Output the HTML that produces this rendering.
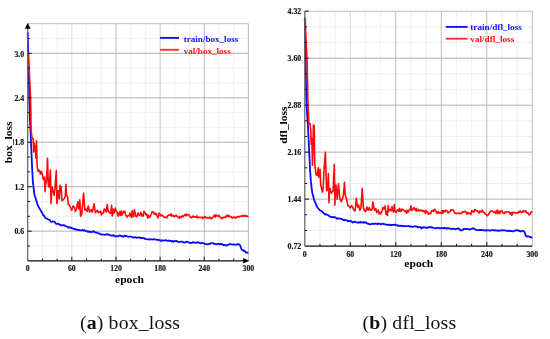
<!DOCTYPE html>
<html><head><meta charset="utf-8"><style>
html,body{margin:0;padding:0;background:#fff;}
body{width:550px;height:339px;overflow:hidden;position:relative;}
svg{position:absolute;left:0;top:0;filter:blur(0.3px);}
.mn{stroke:#ededed;stroke-width:0.9;}
.mj{stroke:#bebebe;stroke-width:1;}
.bd{stroke:#bdbdbd;stroke-width:1;fill:none;}
.ax{stroke:#111;stroke-width:1.2;}
.tk{stroke:#111;stroke-width:1;}
.tl{font-family:"Liberation Serif",serif;font-weight:bold;font-size:7.8px;fill:#111;stroke:#111;stroke-width:0.15px;}
.al{font-family:"Liberation Serif",serif;font-weight:bold;font-size:11.6px;fill:#000;}
.lg{font-family:"Liberation Serif",serif;font-weight:bold;font-size:9.1px;}
.cap{font-family:"Liberation Serif",serif;font-size:19.8px;fill:#111;}
.tr{fill:none;stroke:#0a0aff;stroke-width:1.8;stroke-linejoin:round;}
.vl{fill:none;stroke:#ff0a0a;stroke-width:1.6;stroke-linejoin:round;}
</style></head><body>
<svg width="550" height="339" viewBox="0 0 550 339">
<line x1="42.41" y1="23.70" x2="42.41" y2="260.80" class="mn"/>
<line x1="57.13" y1="23.70" x2="57.13" y2="260.80" class="mn"/>
<line x1="86.55" y1="23.70" x2="86.55" y2="260.80" class="mn"/>
<line x1="101.27" y1="23.70" x2="101.27" y2="260.80" class="mn"/>
<line x1="130.69" y1="23.70" x2="130.69" y2="260.80" class="mn"/>
<line x1="145.41" y1="23.70" x2="145.41" y2="260.80" class="mn"/>
<line x1="174.83" y1="23.70" x2="174.83" y2="260.80" class="mn"/>
<line x1="189.55" y1="23.70" x2="189.55" y2="260.80" class="mn"/>
<line x1="218.97" y1="23.70" x2="218.97" y2="260.80" class="mn"/>
<line x1="233.69" y1="23.70" x2="233.69" y2="260.80" class="mn"/>
<line x1="27.70" y1="245.98" x2="248.40" y2="245.98" class="mn"/>
<line x1="27.70" y1="216.34" x2="248.40" y2="216.34" class="mn"/>
<line x1="27.70" y1="201.53" x2="248.40" y2="201.53" class="mn"/>
<line x1="27.70" y1="171.89" x2="248.40" y2="171.89" class="mn"/>
<line x1="27.70" y1="157.07" x2="248.40" y2="157.07" class="mn"/>
<line x1="27.70" y1="127.43" x2="248.40" y2="127.43" class="mn"/>
<line x1="27.70" y1="112.61" x2="248.40" y2="112.61" class="mn"/>
<line x1="27.70" y1="82.97" x2="248.40" y2="82.97" class="mn"/>
<line x1="27.70" y1="68.16" x2="248.40" y2="68.16" class="mn"/>
<line x1="27.70" y1="38.52" x2="248.40" y2="38.52" class="mn"/>
<line x1="71.84" y1="23.70" x2="71.84" y2="260.80" class="mj" style="stroke:#dcdcdc"/>
<line x1="115.98" y1="23.70" x2="115.98" y2="260.80" class="mj" style="stroke:#b8b8b8"/>
<line x1="160.12" y1="23.70" x2="160.12" y2="260.80" class="mj" style="stroke:#c6c6c6"/>
<line x1="204.26" y1="23.70" x2="204.26" y2="260.80" class="mj" style="stroke:#b8b8b8"/>
<line x1="27.70" y1="231.16" x2="248.40" y2="231.16" class="mj" style="stroke:#b2b2b2"/>
<line x1="27.70" y1="186.71" x2="248.40" y2="186.71" class="mj" style="stroke:#b2b2b2"/>
<line x1="27.70" y1="142.25" x2="248.40" y2="142.25" class="mj" style="stroke:#b2b2b2"/>
<line x1="27.70" y1="97.79" x2="248.40" y2="97.79" class="mj" style="stroke:#b2b2b2"/>
<line x1="27.70" y1="53.34" x2="248.40" y2="53.34" class="mj" style="stroke:#b2b2b2"/>
<polyline points="27.70,23.70 248.40,23.70 248.40,260.80" class="bd"/>
<line x1="319.97" y1="11.20" x2="319.97" y2="246.10" class="mn"/>
<line x1="335.13" y1="11.20" x2="335.13" y2="246.10" class="mn"/>
<line x1="365.47" y1="11.20" x2="365.47" y2="246.10" class="mn"/>
<line x1="380.63" y1="11.20" x2="380.63" y2="246.10" class="mn"/>
<line x1="410.97" y1="11.20" x2="410.97" y2="246.10" class="mn"/>
<line x1="426.13" y1="11.20" x2="426.13" y2="246.10" class="mn"/>
<line x1="456.47" y1="11.20" x2="456.47" y2="246.10" class="mn"/>
<line x1="471.63" y1="11.20" x2="471.63" y2="246.10" class="mn"/>
<line x1="501.97" y1="11.20" x2="501.97" y2="246.10" class="mn"/>
<line x1="517.13" y1="11.20" x2="517.13" y2="246.10" class="mn"/>
<line x1="304.80" y1="230.44" x2="532.30" y2="230.44" class="mn"/>
<line x1="304.80" y1="214.78" x2="532.30" y2="214.78" class="mn"/>
<line x1="304.80" y1="183.46" x2="532.30" y2="183.46" class="mn"/>
<line x1="304.80" y1="167.80" x2="532.30" y2="167.80" class="mn"/>
<line x1="304.80" y1="136.48" x2="532.30" y2="136.48" class="mn"/>
<line x1="304.80" y1="120.82" x2="532.30" y2="120.82" class="mn"/>
<line x1="304.80" y1="89.50" x2="532.30" y2="89.50" class="mn"/>
<line x1="304.80" y1="73.84" x2="532.30" y2="73.84" class="mn"/>
<line x1="304.80" y1="42.52" x2="532.30" y2="42.52" class="mn"/>
<line x1="304.80" y1="26.86" x2="532.30" y2="26.86" class="mn"/>
<line x1="350.30" y1="11.20" x2="350.30" y2="246.10" class="mj" style="stroke:#d8d8d8"/>
<line x1="395.80" y1="11.20" x2="395.80" y2="246.10" class="mj" style="stroke:#bbbbbb"/>
<line x1="441.30" y1="11.20" x2="441.30" y2="246.10" class="mj" style="stroke:#bdbdbd"/>
<line x1="486.80" y1="11.20" x2="486.80" y2="246.10" class="mj" style="stroke:#bdbdbd"/>
<line x1="304.80" y1="199.12" x2="532.30" y2="199.12" class="mj" style="stroke:#b2b2b2"/>
<line x1="304.80" y1="152.14" x2="532.30" y2="152.14" class="mj" style="stroke:#b2b2b2"/>
<line x1="304.80" y1="105.16" x2="532.30" y2="105.16" class="mj" style="stroke:#b2b2b2"/>
<line x1="304.80" y1="58.18" x2="532.30" y2="58.18" class="mj" style="stroke:#b2b2b2"/>
<polyline points="304.80,11.20 532.30,11.20 532.30,246.10" class="bd"/>
<polyline class="tr" points="27.70,32.59 28.44,60.75 29.17,94.09 29.91,120.02 30.64,134.31 31.38,150.94 32.11,167.73 32.85,181.37 33.59,188.04 34.32,193.94 35.06,196.75 35.79,198.85 36.53,201.35 37.26,203.63 38.00,205.67 38.73,207.18 39.47,208.22 40.21,209.66 40.94,210.89 41.68,211.95 42.41,213.65 43.15,215.01 43.88,215.57 44.62,216.77 45.36,217.90 46.09,218.25 46.83,218.55 47.56,219.00 48.30,219.39 49.03,219.53 49.77,220.01 50.51,221.08 51.24,221.87 51.98,221.79 52.71,221.50 53.45,221.59 54.18,221.64 54.92,222.19 55.66,223.30 56.39,223.97 57.13,223.83 57.86,223.83 58.60,223.71 59.33,224.55 60.07,224.78 60.80,225.12 61.54,225.48 62.28,225.11 63.01,225.09 63.75,225.57 64.48,225.38 65.22,225.81 65.95,226.14 66.69,226.50 67.43,226.77 68.16,227.61 68.90,227.25 69.63,227.26 70.37,227.90 71.10,227.65 71.84,228.16 72.58,228.31 73.31,228.87 74.05,228.91 74.78,228.97 75.52,229.53 76.25,229.51 76.99,229.85 77.73,229.75 78.46,230.13 79.20,229.98 79.93,230.25 80.67,230.47 81.40,230.27 82.14,230.07 82.88,229.86 83.61,230.61 84.35,230.18 85.08,230.54 85.82,230.96 86.55,231.43 87.29,231.10 88.02,231.89 88.76,231.62 89.50,231.50 90.23,232.17 90.97,231.88 91.70,232.17 92.44,231.78 93.17,231.39 93.91,231.24 94.65,232.31 95.38,232.40 96.12,232.50 96.85,232.57 97.59,232.98 98.32,233.40 99.06,233.45 99.80,233.87 100.53,234.19 101.27,234.50 102.00,234.38 102.74,234.53 103.47,234.69 104.21,234.72 104.95,234.96 105.68,234.69 106.42,234.13 107.15,234.39 107.89,234.82 108.62,234.44 109.36,234.95 110.09,234.88 110.83,235.53 111.57,235.65 112.30,235.78 113.04,235.20 113.77,235.16 114.51,236.22 115.24,236.30 115.98,235.99 116.72,236.33 117.45,236.24 118.19,236.17 118.92,235.81 119.66,235.42 120.39,235.74 121.13,235.79 121.87,236.34 122.60,236.25 123.34,236.77 124.07,236.44 124.81,235.72 125.54,236.00 126.28,235.94 127.02,236.29 127.75,236.45 128.49,236.78 129.22,236.68 129.96,236.65 130.69,236.56 131.43,236.66 132.16,237.00 132.90,237.58 133.64,237.59 134.37,237.34 135.11,237.10 135.84,237.27 136.58,237.79 137.31,237.53 138.05,237.54 138.79,237.29 139.52,237.37 140.26,237.80 140.99,238.09 141.73,237.73 142.46,238.21 143.20,238.03 143.94,237.99 144.67,238.79 145.41,238.74 146.14,239.02 146.88,239.25 147.61,239.32 148.35,239.34 149.09,239.27 149.82,239.61 150.56,239.28 151.29,239.47 152.03,239.35 152.76,239.53 153.50,239.24 154.23,239.18 154.97,239.43 155.71,239.62 156.44,239.73 157.18,239.78 157.91,239.73 158.65,240.01 159.38,240.12 160.12,240.51 160.86,240.52 161.59,240.91 162.33,240.26 163.06,240.56 163.80,240.50 164.53,240.30 165.27,240.34 166.01,240.19 166.74,240.53 167.48,240.82 168.21,240.88 168.95,240.43 169.68,240.79 170.42,241.16 171.16,241.00 171.89,241.48 172.63,240.87 173.36,241.79 174.10,241.27 174.83,241.00 175.57,241.24 176.30,240.90 177.04,241.12 177.78,241.70 178.51,242.01 179.25,241.85 179.98,241.86 180.72,241.65 181.45,241.71 182.19,241.67 182.93,242.29 183.66,242.15 184.40,242.60 185.13,242.65 185.87,242.10 186.60,241.62 187.34,241.80 188.08,242.35 188.81,242.37 189.55,242.86 190.28,242.88 191.02,242.79 191.75,243.12 192.49,242.22 193.23,242.31 193.96,242.29 194.70,242.65 195.43,242.81 196.17,242.74 196.90,242.36 197.64,242.18 198.37,242.67 199.11,242.59 199.85,243.05 200.58,243.41 201.32,242.85 202.05,242.78 202.79,243.15 203.52,243.27 204.26,243.50 205.00,244.00 205.73,244.24 206.47,244.10 207.20,244.26 207.94,244.35 208.67,243.96 209.41,243.63 210.15,243.89 210.88,243.34 211.62,243.07 212.35,243.10 213.09,243.20 213.82,243.85 214.56,243.92 215.30,243.79 216.03,244.08 216.77,244.32 217.50,243.94 218.24,243.76 218.97,244.07 219.71,244.36 220.44,243.80 221.18,244.40 221.92,244.13 222.65,244.54 223.39,245.08 224.12,244.70 224.86,245.04 225.59,245.55 226.33,245.24 227.07,245.32 227.80,245.20 228.54,244.51 229.27,244.20 230.01,244.21 230.74,244.42 231.48,244.45 232.22,244.31 232.95,244.51 233.69,244.34 234.42,244.70 235.16,244.69 235.89,244.50 236.63,244.66 237.37,244.46 238.10,244.00 238.84,244.38 239.57,244.78 240.31,245.66 241.04,248.20 241.78,249.68 242.51,250.30 243.25,250.23 243.99,251.01 244.72,250.94 245.46,251.95 246.19,252.55 246.93,252.36 247.66,252.53 248.40,252.64"/>
<polyline class="vl" points="28.30,53.30 29.30,72.00 30.20,90.00 30.60,100.00 30.90,115.00 31.10,130.00 31.90,137.20 32.60,138.30 33.20,139.30 33.70,152.00 34.20,143.00 34.70,149.60 35.30,146.00 35.80,158.00 36.50,140.80 37.10,165.00 37.50,168.50 38.00,171.20 38.80,170.00 39.80,171.80 40.40,174.00 41.00,171.20 42.20,173.60 43.30,179.50 44.50,177.10 45.10,191.80 45.60,184.00 46.30,182.40 46.90,172.40 47.50,158.30 48.30,185.40 49.20,187.10 50.40,170.00 51.00,203.60 51.60,192.00 52.20,187.10 52.80,190.00 54.00,195.30 55.00,188.00 56.30,170.60 56.90,203.60 58.10,190.60 59.30,198.90 60.00,185.30 60.40,191.80 61.20,186.50 61.80,200.70 63.50,199.50 64.70,197.70 65.30,196.20 65.90,184.20 66.50,194.80 67.70,197.10 68.30,204.30 69.40,205.00 70.60,207.80 71.80,210.30 73.00,206.00 74.20,206.80 74.70,207.80 75.30,211.50 76.50,209.20 77.70,202.00 78.90,209.00 79.80,199.90 80.60,216.20 81.80,213.90 83.60,193.00 84.80,210.00 86.00,209.20 87.10,211.50 88.30,206.00 89.50,212.10 91.30,209.70 92.40,212.10 94.00,203.80 95.40,212.70 97.20,210.30 98.30,212.70 100.00,211.50 100.53,211.16 101.27,214.95 102.00,213.24 102.74,213.13 103.47,212.72 104.21,208.94 104.95,209.25 105.68,211.23 106.42,211.84 107.15,204.49 107.89,209.23 108.62,211.85 109.36,212.08 110.09,213.24 110.83,212.90 111.57,205.23 112.30,216.00 113.04,208.93 113.77,213.14 114.51,212.07 115.24,208.07 115.98,210.53 116.72,211.59 117.45,213.60 118.19,216.13 118.92,213.35 119.66,211.72 120.39,215.53 121.13,211.08 121.87,215.11 122.60,213.80 123.34,211.15 124.07,212.08 124.81,211.40 125.54,214.63 126.28,215.64 127.02,217.19 127.75,215.91 128.49,215.45 129.22,215.85 129.96,213.02 130.69,214.91 131.43,217.48 132.16,210.64 132.90,216.09 133.64,216.73 134.37,209.68 135.11,212.66 135.84,216.14 136.58,216.70 137.31,216.08 138.05,212.85 138.79,214.75 139.52,215.25 140.26,214.09 140.99,212.44 141.73,216.13 142.46,214.61 143.20,215.96 143.94,211.29 144.67,212.15 145.41,213.60 146.14,215.10 146.88,214.08 147.61,217.90 148.35,215.28 149.09,217.55 149.82,217.15 150.56,215.47 151.29,214.01 152.03,212.10 152.76,211.59 153.50,212.25 154.23,214.22 154.97,213.11 155.71,214.62 156.44,213.50 157.18,215.95 157.91,218.01 158.65,215.65 159.38,213.06 160.12,215.05 160.86,215.92 161.59,214.94 162.33,215.46 163.06,215.76 163.80,217.11 164.53,216.96 165.27,217.07 166.01,217.75 166.74,217.79 167.48,216.20 168.21,215.08 168.95,215.12 169.68,215.15 170.42,215.24 171.16,213.85 171.89,216.15 172.63,215.86 173.36,215.28 174.10,216.67 174.83,216.36 175.57,215.69 176.30,215.29 177.04,216.57 177.78,216.87 178.51,217.34 179.25,218.34 179.98,216.39 180.72,216.89 181.45,217.41 182.19,215.82 182.93,216.59 183.66,215.81 184.40,214.91 185.13,215.51 185.87,214.06 186.60,215.78 187.34,214.51 188.08,214.52 188.81,214.57 189.55,215.99 190.28,217.38 191.02,217.81 191.75,217.58 192.49,216.18 193.23,217.06 193.96,216.26 194.70,216.89 195.43,216.87 196.17,217.36 196.90,215.86 197.64,217.85 198.37,217.34 199.11,217.40 199.85,217.23 200.58,217.42 201.32,217.54 202.05,217.22 202.79,218.70 203.52,217.31 204.26,217.65 205.00,216.45 205.73,217.55 206.47,217.95 207.20,217.98 207.94,217.46 208.67,218.06 209.41,218.03 210.15,217.07 210.88,218.38 211.62,218.95 212.35,217.64 213.09,217.18 213.82,215.87 214.56,215.10 215.30,217.21 216.03,214.91 216.77,215.50 217.50,215.96 218.24,216.30 218.97,215.24 219.71,216.97 220.44,217.63 221.18,217.53 221.92,218.61 222.65,217.53 223.39,217.77 224.12,217.33 224.86,217.09 225.59,217.51 226.33,215.48 227.07,216.30 227.80,215.06 228.54,216.73 229.27,215.88 230.01,216.76 230.74,216.44 231.48,217.04 232.22,218.10 232.95,217.63 233.69,217.10 234.42,216.91 235.16,218.04 235.89,218.18 236.63,217.18 237.37,216.59 238.10,216.80 238.84,217.07 239.57,216.33 240.31,216.18 241.04,215.91 241.78,216.37 242.51,215.62 243.25,215.78 243.99,216.48 244.72,215.26 245.46,215.76 246.19,216.35 246.93,215.79 247.66,216.57 248.40,216.87"/>
<polyline class="tr" points="304.80,17.73 305.56,60.46 306.32,97.66 307.07,112.66 307.83,123.76 308.59,138.76 309.35,155.08 310.11,170.74 310.87,181.18 311.62,188.14 312.38,193.25 313.14,195.93 313.90,198.90 314.66,201.44 315.42,202.87 316.18,204.62 316.93,206.71 317.69,207.79 318.45,208.68 319.21,209.52 319.97,210.38 320.73,210.53 321.48,211.19 322.24,211.60 323.00,212.29 323.76,213.26 324.52,213.73 325.27,214.55 326.03,214.18 326.79,214.73 327.55,214.92 328.31,215.32 329.07,216.02 329.82,216.39 330.58,216.83 331.34,217.23 332.10,216.91 332.86,217.03 333.62,217.42 334.38,217.07 335.13,217.38 335.89,217.70 336.65,218.45 337.41,218.92 338.17,218.31 338.93,218.27 339.68,218.50 340.44,218.74 341.20,218.88 341.96,219.05 342.72,219.45 343.48,220.12 344.23,219.68 344.99,220.30 345.75,220.16 346.51,220.34 347.27,220.49 348.02,221.29 348.78,220.98 349.54,221.22 350.30,221.12 351.06,221.01 351.82,221.69 352.57,222.56 353.33,221.98 354.09,221.73 354.85,221.66 355.61,222.11 356.37,222.22 357.12,222.31 357.88,222.82 358.64,222.51 359.40,222.48 360.16,222.03 360.92,222.62 361.68,222.13 362.43,222.47 363.19,222.78 363.95,221.84 364.71,222.61 365.47,222.45 366.23,222.51 366.98,223.32 367.74,223.80 368.50,223.66 369.26,224.15 370.02,224.46 370.77,224.25 371.53,223.94 372.29,223.61 373.05,224.01 373.81,223.88 374.57,223.62 375.32,223.69 376.08,223.75 376.84,223.81 377.60,224.28 378.36,223.45 379.12,223.66 379.88,223.90 380.63,224.16 381.39,224.14 382.15,223.86 382.91,223.59 383.67,224.02 384.42,224.19 385.18,224.43 385.94,224.43 386.70,224.88 387.46,224.95 388.22,224.61 388.97,224.95 389.73,224.74 390.49,225.17 391.25,224.92 392.01,225.00 392.77,224.90 393.52,224.82 394.28,224.74 395.04,224.62 395.80,224.99 396.56,225.03 397.32,225.33 398.07,225.95 398.83,225.59 399.59,225.85 400.35,225.63 401.11,225.91 401.87,226.25 402.62,225.72 403.38,225.84 404.14,226.21 404.90,226.33 405.66,226.01 406.42,226.20 407.17,226.13 407.93,226.05 408.69,226.01 409.45,226.58 410.21,226.30 410.97,226.38 411.72,226.74 412.48,227.09 413.24,226.61 414.00,226.67 414.76,226.17 415.52,226.34 416.27,226.58 417.03,226.56 417.79,227.32 418.55,227.08 419.31,227.22 420.07,226.94 420.82,227.51 421.58,228.52 422.34,227.40 423.10,227.68 423.86,227.18 424.62,227.53 425.38,227.52 426.13,227.61 426.89,227.78 427.65,227.88 428.41,227.07 429.17,227.17 429.92,227.32 430.68,227.19 431.44,227.50 432.20,227.13 432.96,227.82 433.72,227.97 434.48,228.03 435.23,228.32 435.99,228.30 436.75,227.91 437.51,227.89 438.27,227.75 439.02,228.04 439.78,228.43 440.54,228.10 441.30,228.12 442.06,228.15 442.82,228.21 443.57,228.33 444.33,227.67 445.09,228.24 445.85,228.12 446.61,228.64 447.37,228.07 448.12,228.53 448.88,228.31 449.64,228.32 450.40,228.52 451.16,229.07 451.92,228.95 452.67,228.85 453.43,228.58 454.19,228.92 454.95,229.18 455.71,229.12 456.47,228.85 457.22,228.65 457.98,228.35 458.74,228.86 459.50,229.14 460.26,230.10 461.02,230.35 461.77,230.25 462.53,230.09 463.29,229.35 464.05,228.80 464.81,228.99 465.57,229.01 466.32,229.01 467.08,228.82 467.84,229.09 468.60,229.13 469.36,229.40 470.12,229.39 470.88,229.07 471.63,228.93 472.39,228.69 473.15,228.27 473.91,228.82 474.67,228.90 475.42,229.42 476.18,229.85 476.94,230.06 477.70,230.23 478.46,230.00 479.22,230.05 479.97,230.02 480.73,229.78 481.49,230.20 482.25,229.89 483.01,230.13 483.77,230.16 484.52,230.65 485.28,230.55 486.04,230.00 486.80,230.41 487.56,230.33 488.32,230.45 489.07,230.24 489.83,230.69 490.59,230.60 491.35,230.21 492.11,230.00 492.87,230.23 493.62,230.19 494.38,230.25 495.14,230.24 495.90,230.55 496.66,230.71 497.42,230.47 498.17,230.80 498.93,230.55 499.69,230.51 500.45,230.64 501.21,230.29 501.97,230.34 502.72,230.18 503.48,230.40 504.24,230.44 505.00,230.32 505.76,230.52 506.52,230.81 507.27,230.73 508.03,230.89 508.79,231.01 509.55,230.70 510.31,231.10 511.07,230.91 511.82,231.02 512.58,231.29 513.34,231.47 514.10,230.83 514.86,230.63 515.62,230.38 516.38,230.21 517.13,230.25 517.89,230.62 518.65,230.48 519.41,231.13 520.17,230.99 520.92,231.53 521.68,231.23 522.44,230.80 523.20,230.92 523.96,231.28 524.72,232.43 525.47,234.97 526.23,236.30 526.99,236.61 527.75,236.22 528.51,236.44 529.27,236.56 530.02,237.14 530.78,237.00 531.54,237.71 532.30,237.48"/>
<polyline class="vl" points="305.20,18.40 305.70,32.00 306.30,45.00 307.00,57.70 307.50,80.00 308.00,105.00 308.90,123.30 310.10,123.80 310.70,130.30 311.30,144.50 311.80,138.60 312.20,152.00 312.40,165.30 312.90,150.00 313.40,125.00 314.20,125.60 314.60,155.00 314.80,164.20 316.00,174.80 317.20,175.40 318.30,167.70 318.90,177.10 320.10,169.50 320.70,185.00 321.90,190.00 322.50,192.10 323.10,189.00 324.00,170.00 325.40,152.40 326.00,173.60 326.60,190.90 327.20,190.00 327.80,186.20 328.40,173.60 329.00,202.70 329.50,189.00 330.10,188.50 331.30,193.30 333.10,190.90 334.30,164.20 334.90,205.10 335.40,189.00 336.00,185.00 337.20,199.20 338.50,183.80 339.80,198.30 341.40,201.80 342.70,197.70 343.30,196.20 344.50,182.40 345.10,193.60 345.70,196.50 346.80,200.00 348.00,206.00 349.20,206.20 350.40,208.00 351.60,205.50 352.70,207.30 353.90,210.30 355.10,210.90 356.30,198.40 357.50,207.00 358.60,205.00 359.80,210.30 361.00,208.00 362.20,188.30 363.40,208.00 364.50,210.90 365.70,211.50 366.90,207.00 368.10,210.30 369.30,207.50 370.40,210.30 372.20,209.20 372.80,201.90 374.60,210.30 375.80,208.60 376.90,212.70 378.00,210.30 378.36,210.06 379.12,213.92 379.88,212.53 380.63,214.06 381.39,211.81 382.15,211.46 382.91,207.40 383.67,208.92 384.42,208.84 385.18,205.83 385.94,214.18 386.70,211.50 387.46,215.58 388.22,205.64 388.97,211.08 389.73,209.92 390.49,209.47 391.25,210.79 392.01,206.61 392.77,210.02 393.52,212.03 394.28,204.67 395.04,211.58 395.80,212.52 396.56,211.69 397.32,210.01 398.07,209.70 398.83,211.31 399.59,208.24 400.35,211.40 401.11,211.18 401.87,208.95 402.62,209.46 403.38,210.00 404.14,211.04 404.90,210.62 405.66,211.63 406.42,213.25 407.17,210.16 407.93,212.38 408.69,211.16 409.45,209.59 410.21,209.91 410.97,205.90 411.72,210.52 412.48,209.71 413.24,208.89 414.00,207.47 414.76,209.26 415.52,210.75 416.27,208.37 417.03,211.10 417.79,210.55 418.55,209.43 419.31,211.02 420.07,210.83 420.82,209.94 421.58,210.78 422.34,210.37 423.10,211.67 423.86,210.89 424.62,212.12 425.38,213.05 426.13,210.24 426.89,212.08 427.65,212.03 428.41,214.22 429.17,213.35 429.92,213.19 430.68,213.61 431.44,210.70 432.20,211.25 432.96,210.38 433.72,211.58 434.48,209.26 435.23,210.02 435.99,211.17 436.75,213.13 437.51,213.14 438.27,211.61 439.02,213.18 439.78,212.69 440.54,212.63 441.30,213.47 442.06,210.48 442.82,213.29 443.57,210.73 444.33,210.72 445.09,212.03 445.85,210.25 446.61,210.36 447.37,211.38 448.12,212.90 448.88,212.13 449.64,211.34 450.40,211.53 451.16,209.48 451.92,209.90 452.67,210.07 453.43,209.97 454.19,212.51 454.95,213.16 455.71,213.03 456.47,213.71 457.22,213.13 457.98,213.22 458.74,213.56 459.50,213.14 460.26,213.44 461.02,213.39 461.77,213.13 462.53,211.46 463.29,212.20 464.05,211.81 464.81,211.27 465.57,211.98 466.32,212.06 467.08,214.16 467.84,212.46 468.60,213.43 469.36,213.24 470.12,213.06 470.88,214.60 471.63,210.53 472.39,211.79 473.15,211.13 473.91,212.10 474.67,209.64 475.42,209.71 476.18,210.74 476.94,210.97 477.70,210.83 478.46,212.49 479.22,212.95 479.97,211.02 480.73,211.75 481.49,212.03 482.25,210.09 483.01,211.93 483.77,212.53 484.52,212.76 485.28,214.05 486.04,214.37 486.80,214.96 487.56,215.60 488.32,214.74 489.07,213.38 489.83,212.33 490.59,211.36 491.35,210.75 492.11,211.14 492.87,211.30 493.62,212.39 494.38,212.49 495.14,211.46 495.90,213.55 496.66,211.86 497.42,209.97 498.17,213.73 498.93,211.31 499.69,213.52 500.45,211.77 501.21,210.63 501.97,210.69 502.72,212.63 503.48,213.26 504.24,213.53 505.00,211.93 505.76,212.48 506.52,212.01 507.27,211.75 508.03,211.73 508.79,211.88 509.55,212.57 510.31,214.24 511.07,212.56 511.82,215.37 512.58,212.27 513.34,212.93 514.10,212.36 514.86,212.66 515.62,212.85 516.38,212.85 517.13,212.98 517.89,213.17 518.65,211.53 519.41,212.24 520.17,211.06 520.92,212.17 521.68,212.56 522.44,211.58 523.20,210.82 523.96,211.57 524.72,211.18 525.47,210.49 526.23,212.49 526.99,212.90 527.75,212.76 528.51,214.00 529.27,214.92 530.02,214.27 530.78,212.60 531.54,211.87 532.30,211.35"/>
<line x1="27.70" y1="260.80" x2="27.70" y2="23.70" class="ax" style="stroke:#5e5e5e"/>
<line x1="27.70" y1="260.80" x2="248.40" y2="260.80" class="ax"/>
<line x1="27.70" y1="245.98" x2="29.90" y2="245.98" class="tk"/>
<line x1="27.70" y1="231.16" x2="31.70" y2="231.16" class="tk"/>
<line x1="27.70" y1="216.34" x2="29.90" y2="216.34" class="tk"/>
<line x1="27.70" y1="201.53" x2="29.90" y2="201.53" class="tk"/>
<line x1="27.70" y1="186.71" x2="31.70" y2="186.71" class="tk"/>
<line x1="27.70" y1="171.89" x2="29.90" y2="171.89" class="tk"/>
<line x1="27.70" y1="157.07" x2="29.90" y2="157.07" class="tk"/>
<line x1="27.70" y1="142.25" x2="31.70" y2="142.25" class="tk"/>
<line x1="27.70" y1="127.43" x2="29.90" y2="127.43" class="tk"/>
<line x1="27.70" y1="112.61" x2="29.90" y2="112.61" class="tk"/>
<line x1="27.70" y1="97.79" x2="31.70" y2="97.79" class="tk"/>
<line x1="27.70" y1="82.97" x2="29.90" y2="82.97" class="tk"/>
<line x1="27.70" y1="68.16" x2="29.90" y2="68.16" class="tk"/>
<line x1="27.70" y1="53.34" x2="31.70" y2="53.34" class="tk"/>
<line x1="27.70" y1="38.52" x2="29.90" y2="38.52" class="tk"/>
<line x1="42.41" y1="260.80" x2="42.41" y2="258.60" class="tk"/>
<line x1="57.13" y1="260.80" x2="57.13" y2="258.60" class="tk"/>
<line x1="71.84" y1="260.80" x2="71.84" y2="256.80" class="tk"/>
<line x1="86.55" y1="260.80" x2="86.55" y2="258.60" class="tk"/>
<line x1="101.27" y1="260.80" x2="101.27" y2="258.60" class="tk"/>
<line x1="115.98" y1="260.80" x2="115.98" y2="256.80" class="tk"/>
<line x1="130.69" y1="260.80" x2="130.69" y2="258.60" class="tk"/>
<line x1="145.41" y1="260.80" x2="145.41" y2="258.60" class="tk"/>
<line x1="160.12" y1="260.80" x2="160.12" y2="256.80" class="tk"/>
<line x1="174.83" y1="260.80" x2="174.83" y2="258.60" class="tk"/>
<line x1="189.55" y1="260.80" x2="189.55" y2="258.60" class="tk"/>
<line x1="204.26" y1="260.80" x2="204.26" y2="256.80" class="tk"/>
<line x1="218.97" y1="260.80" x2="218.97" y2="258.60" class="tk"/>
<line x1="233.69" y1="260.80" x2="233.69" y2="258.60" class="tk"/>
<polygon points="24.80,28.70 30.60,28.70 27.70,23.10" fill="#000"/>
<polygon points="243.20,258.00 243.20,263.60 249.00,260.80" fill="#000"/>
<line x1="304.80" y1="246.10" x2="304.80" y2="11.20" class="ax" style="stroke:#5e5e5e"/>
<line x1="304.80" y1="246.10" x2="532.30" y2="246.10" class="ax"/>
<line x1="304.80" y1="230.44" x2="307.00" y2="230.44" class="tk"/>
<line x1="304.80" y1="214.78" x2="307.00" y2="214.78" class="tk"/>
<line x1="304.80" y1="199.12" x2="308.80" y2="199.12" class="tk"/>
<line x1="304.80" y1="183.46" x2="307.00" y2="183.46" class="tk"/>
<line x1="304.80" y1="167.80" x2="307.00" y2="167.80" class="tk"/>
<line x1="304.80" y1="152.14" x2="308.80" y2="152.14" class="tk"/>
<line x1="304.80" y1="136.48" x2="307.00" y2="136.48" class="tk"/>
<line x1="304.80" y1="120.82" x2="307.00" y2="120.82" class="tk"/>
<line x1="304.80" y1="105.16" x2="308.80" y2="105.16" class="tk"/>
<line x1="304.80" y1="89.50" x2="307.00" y2="89.50" class="tk"/>
<line x1="304.80" y1="73.84" x2="307.00" y2="73.84" class="tk"/>
<line x1="304.80" y1="58.18" x2="308.80" y2="58.18" class="tk"/>
<line x1="304.80" y1="42.52" x2="307.00" y2="42.52" class="tk"/>
<line x1="304.80" y1="26.86" x2="307.00" y2="26.86" class="tk"/>
<line x1="304.80" y1="11.20" x2="308.80" y2="11.20" class="tk"/>
<line x1="319.97" y1="246.10" x2="319.97" y2="243.90" class="tk"/>
<line x1="335.13" y1="246.10" x2="335.13" y2="243.90" class="tk"/>
<line x1="350.30" y1="246.10" x2="350.30" y2="242.10" class="tk"/>
<line x1="365.47" y1="246.10" x2="365.47" y2="243.90" class="tk"/>
<line x1="380.63" y1="246.10" x2="380.63" y2="243.90" class="tk"/>
<line x1="395.80" y1="246.10" x2="395.80" y2="242.10" class="tk"/>
<line x1="410.97" y1="246.10" x2="410.97" y2="243.90" class="tk"/>
<line x1="426.13" y1="246.10" x2="426.13" y2="243.90" class="tk"/>
<line x1="441.30" y1="246.10" x2="441.30" y2="242.10" class="tk"/>
<line x1="456.47" y1="246.10" x2="456.47" y2="243.90" class="tk"/>
<line x1="471.63" y1="246.10" x2="471.63" y2="243.90" class="tk"/>
<line x1="486.80" y1="246.10" x2="486.80" y2="242.10" class="tk"/>
<line x1="501.97" y1="246.10" x2="501.97" y2="243.90" class="tk"/>
<line x1="517.13" y1="246.10" x2="517.13" y2="243.90" class="tk"/>
<text x="24.2" y="234.36" class="tl" text-anchor="end">0.6</text>
<text x="24.2" y="189.91" class="tl" text-anchor="end">1.2</text>
<text x="24.2" y="145.45" class="tl" text-anchor="end">1.8</text>
<text x="24.2" y="100.99" class="tl" text-anchor="end">2.4</text>
<text x="24.2" y="56.54" class="tl" text-anchor="end">3.0</text>
<text x="27.70" y="270.6" class="tl" text-anchor="middle">0</text>
<text x="71.84" y="270.6" class="tl" text-anchor="middle">60</text>
<text x="115.98" y="270.6" class="tl" text-anchor="middle">120</text>
<text x="160.12" y="270.6" class="tl" text-anchor="middle">180</text>
<text x="204.26" y="270.6" class="tl" text-anchor="middle">240</text>
<text x="248.40" y="270.6" class="tl" text-anchor="middle">300</text>
<text x="301.2" y="249.20" class="tl" text-anchor="end">0.72</text>
<text x="301.2" y="202.22" class="tl" text-anchor="end">1.44</text>
<text x="301.2" y="155.24" class="tl" text-anchor="end">2.16</text>
<text x="301.2" y="108.26" class="tl" text-anchor="end">2.88</text>
<text x="301.2" y="61.28" class="tl" text-anchor="end">3.60</text>
<text x="301.2" y="14.30" class="tl" text-anchor="end">4.32</text>
<text x="304.80" y="256.9" class="tl" text-anchor="middle">0</text>
<text x="350.30" y="256.9" class="tl" text-anchor="middle">60</text>
<text x="395.80" y="256.9" class="tl" text-anchor="middle">120</text>
<text x="441.30" y="256.9" class="tl" text-anchor="middle">180</text>
<text x="486.80" y="256.9" class="tl" text-anchor="middle">240</text>
<text x="532.30" y="256.9" class="tl" text-anchor="middle">300</text>
<text class="al" transform="translate(12.2,142.3) rotate(-90) scale(1,0.88)" text-anchor="middle">box_loss</text>
<text class="al" transform="translate(129.5,282.6) scale(1,0.9)" text-anchor="middle">epoch</text>
<text class="al" transform="translate(286.8,125.2) rotate(-90) scale(1,0.9)" text-anchor="middle">dfl_loss</text>
<text class="al" transform="translate(418.8,266.8) scale(1,0.9)" text-anchor="middle">epoch</text>
<line x1="160" y1="37.9" x2="179" y2="37.9" stroke="#1010ff" stroke-width="1.9"/>
<text class="lg" x="183.7" y="41.6" fill="#1010ff">train/box_loss</text>
<line x1="160" y1="49.8" x2="179" y2="49.8" stroke="#ff3030" stroke-width="1.9"/>
<text class="lg" x="183.7" y="53.8" fill="#ff1010">val/box_loss</text>
<line x1="445.8" y1="26.9" x2="467.6" y2="26.9" stroke="#1010ff" stroke-width="1.9"/>
<text class="lg" x="470.3" y="30.1" fill="#1010ff" style="font-size:9.2px">train/dfl_loss</text>
<line x1="445.8" y1="38.7" x2="467.6" y2="38.7" stroke="#ff3030" stroke-width="1.9"/>
<text class="lg" x="470.3" y="42.0" fill="#ff1010" style="font-size:9.2px">val/dfl_loss</text>
<text class="cap" x="80.0" y="328.5" textLength="100.0" lengthAdjust="spacing">(<tspan font-weight="bold">a</tspan>) box_loss</text>
<text class="cap" x="362.5" y="328.5" textLength="93.7" lengthAdjust="spacing">(<tspan font-weight="bold">b</tspan>) dfl_loss</text>
</svg>
</body></html>
